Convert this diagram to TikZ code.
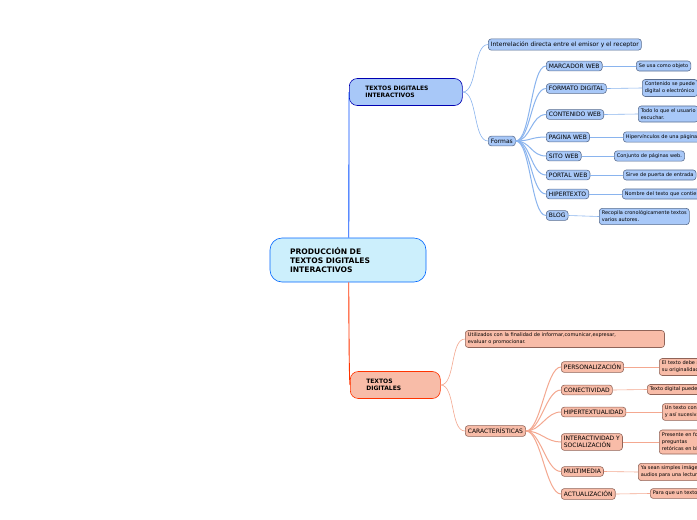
\documentclass[tikz,border=0pt]{standalone}
\usepackage{fontspec}
\setmainfont{DejaVu Sans}
\definecolor{bfill}{HTML}{A8C8F8}
\definecolor{bdraw}{HTML}{5A6E90}
\definecolor{ofill}{HTML}{F8BCA8}
\definecolor{odraw}{HTML}{906458}
\definecolor{bline}{HTML}{8AB4EE}
\definecolor{oline}{HTML}{F4A890}
\begin{document}
\begin{tikzpicture}[x=1pt,y=-1pt,
 bb/.style={draw=bdraw,fill=bfill,rounded corners=3pt,line width=0.6pt,inner sep=2.6pt,font=\fontsize{6}{7}\selectfont,anchor=west,align=left},
 ob/.style={draw=odraw,fill=ofill,rounded corners=3pt,line width=0.6pt,inner sep=2.6pt,font=\fontsize{6}{7}\selectfont,anchor=west,align=left},
 lf/.style={font=\fontsize{5}{7}\selectfont},
 bl/.style={draw=bline,line width=0.6pt},
 ol/.style={draw=oline,line width=0.6pt}]
\useasboundingbox (0,0) rectangle (697,520);
\clip (0,0) rectangle (697,520);
\fill[white] (0,0) rectangle (697,520);
\node[draw=blue!60!cyan,fill=cyan!20,rounded corners=12pt,minimum width=156pt,minimum height=44pt,line width=0.6pt,font=\bfseries\fontsize{7.6}{9}\selectfont,align=left,inner xsep=20pt,text width=116pt] (root) at (348,260) {PRODUCCIÓN DE\\TEXTOS DIGITALES\\INTERACTIVOS};
\node[bb,draw=blue!70!black,rounded corners=8pt,minimum width=113pt,minimum height=27pt,font=\bfseries\fontsize{6}{7}\selectfont,inner xsep=16pt,text width=81pt,align=left] (tdi) at (349,92) {TEXTOS DIGITALES\\INTERACTIVOS};
\node[ob,draw=red!60!orange,rounded corners=8pt,minimum width=90pt,minimum height=27pt,font=\bfseries\fontsize{6}{7}\selectfont,inner xsep=16pt,text width=58pt,align=left] (td) at (350,385) {TEXTOS\\DIGITALES};
\draw[blue!70!cyan,line width=0.9pt] (root.north west)++(79,0) .. controls (349,200) and (349,100) .. (tdi.west);
\draw[red!60!orange,line width=0.9pt] (root.south west)++(79,0) .. controls (349,320) and (349,375) .. (td.west);
\node[bb] (int) at (488,44.5) {Interrelación directa entre el emisor y el receptor};
\node[bb] (for) at (488,141) {Formas};
\foreach \t in {int,for}{\draw[bl] (tdi.east) .. controls +(15,0) and +(-15,0) .. (\t.west);}
\foreach \n/\y/\t/\lx/\ly/\l in {
 mw/66/MARCADOR WEB/636/66/{Se usa como objeto},
 fd/88.5/FORMATO DIGITAL/642/88/{Contenido se puede\\digital o electrónico},
 cw/114.5/CONTENIDO WEB/638/114/{Todo lo que el  usuario\\escuchar.},
 pw/137/PAGINA WEB/623/137/{Hipervínculos de una página},
 sw/156/SITO WEB/614/156/{Conjunto de páginas web.},
 pt/175/PORTAL WEB/623/175/{Sirve de puerta de entrada},
 hx/194/HIPERTEXTO/622/194/{Nombre del texto que contiene},
 bg/215.5/BLOG/599/216.5/{Recopila cronológicamente textos\\varios autores.}}{
 \node[bb] (\n) at (546,\y) {\t};
 \node[bb,lf] (\n L) at (\lx,\ly) {\l};
 \draw[bl,line width=1pt] (for.east) .. controls +(15,0) and +(-15,0) .. (\n.west);
 \draw[bl] (\n.east) -- (\n L.west);
}
\node[ob,lf,text width=194pt] (uti) at (465,339) {Utilizados con la finalidad de informar,comunicar,expresar,\\evaluar o promocionar.};
\node[ob] (car) at (465,431) {CARACTERÍSTICAS};
\foreach \t in {uti,car}{\draw[ol] (td.east) .. controls +(15,0) and +(-15,0) .. (\t.west);}
\foreach \n/\y/\t/\lx/\ly/\l in {
 pe/367/PERSONALIZACIÓN/659/367/{El texto debe ser\\su originalidad},
 co/390/CONECTIVIDAD/647/389.5/{Texto digital puede},
 hi/412/HIPERTEXTUALIDAD/662/412/{Un texto con\\y así sucesivamente},
 is/442/{INTERACTIVIDAD Y\\SOCIALIZACIÓN}/659/442/{Presente en foros,\\preguntas\\retóricas en blogs},
 mu/471.5/MULTIMEDIA/638/472/{Ya sean simples imágenes\\audios para una lectura},
 ac/494/ACTUALIZACIÓN/650/493.5/{Para que un texto}}{
 \node[ob] (\n) at (561,\y) {\t};
 \node[ob,lf] (\n L) at (\lx,\ly) {\l};
 \draw[ol,line width=1pt] (car.east) .. controls +(15,0) and +(-15,0) .. (\n.west);
 \draw[ol] (\n.east) -- (\n L.west);
}
\end{tikzpicture}
\end{document}
